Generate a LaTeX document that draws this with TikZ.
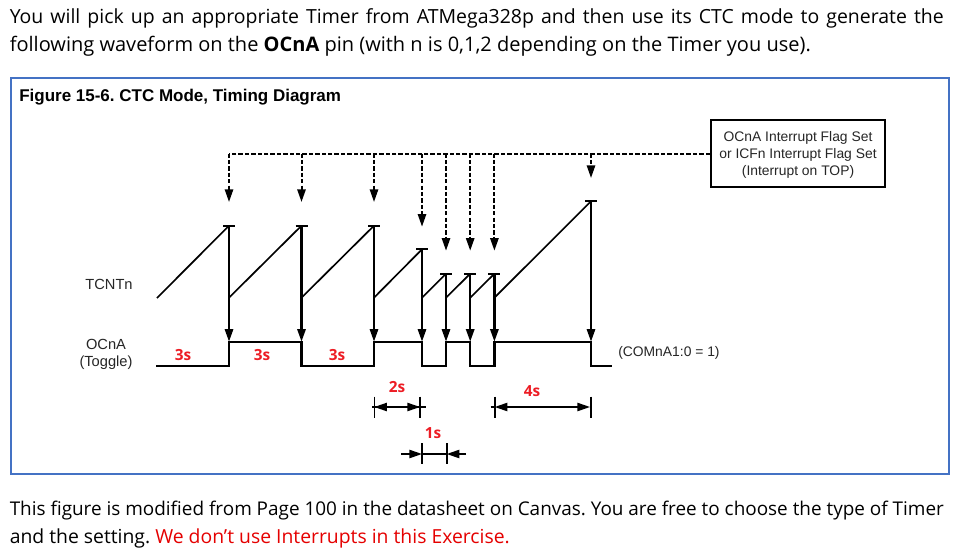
\documentclass[tikz,border=0pt]{standalone}
\usepackage{fontspec}
\setmainfont{Open Sans}
\newfontfamily\figfont{Liberation Sans}
\usetikzlibrary{arrows.meta}
\definecolor{framecol}{RGB}{68,114,196}
\definecolor{redtxt}{RGB}{237,28,36}
\frenchspacing
\tikzset{
  x=0.75pt,y=-0.75pt,
  wave/.style={line width=1.7pt,black,line cap=butt,line join=miter},
  thinwave/.style={line width=1.25pt,black},
  tip/.style={-{Triangle[length=9.5pt,width=6.2pt]}},
  dimtip/.style={-{Triangle[length=9.5pt,width=6.2pt]}},
  dimtips/.style={{Triangle[length=9.5pt,width=6.2pt]}-{Triangle[length=9.5pt,width=6.2pt]}},
  flagline/.style={line width=1.5pt,black,dash pattern=on 3.2pt off 1.6pt,tip},
  flagbus/.style={line width=1.5pt,black,dash pattern=on 3.2pt off 1.6pt},
  capline/.style={line width=1.3pt,black},
  dimtick/.style={line width=1.2pt,black},
  dimline/.style={line width=1.2pt,black},
  para/.style={anchor=base west,inner sep=0pt,font=\fontsize{14.6}{17}\selectfont},
  figlabel/.style={inner sep=0pt,font=\figfont\fontsize{10.4}{12.8}\selectfont,text=black!85,align=center},
  sidelabel/.style={inner sep=0pt,font=\figfont\fontsize{11}{12.8}\selectfont,text=black!85,align=center},
  timelabel/.style={inner sep=0pt,font=\bfseries\fontsize{11.5}{13}\selectfont,text=redtxt},
}
\begin{document}
\begin{tikzpicture}
\useasboundingbox[fill=white] (0,0) rectangle (955,553);
% paragraph text
\node[para] (l1) at (9.5,23) {\makebox[700.5pt][s]{You will pick up an appropriate Timer from ATMega328p and then use its CTC mode to generate the}};
\node[para] (l2) at (9.5,51) {\resizebox{600.75pt}{!}{following waveform on the \textbf{OCnA} pin (with n is 0,1,2 depending on the Timer you use).}};
\node[para] (l3) at (9.5,515) {\resizebox{700.5pt}{!}{This figure is modified from Page 100 in the datasheet on Canvas. You are free to choose the type of Timer}};
\node[para] (l4) at (9.5,543) {\resizebox{375pt}{!}{and the setting. \textcolor{red!90!black}{We don’t use Interrupts in this Exercise.}}};
% frame
\draw[framecol,line width=1.3pt] (11,78) rectangle (949,474);
\node[anchor=base west,inner sep=0pt,font=\figfont\bfseries\fontsize{12.75}{14}\selectfont] (title) at (19,101.5) {Figure 15-6. CTC Mode, Timing Diagram};
% flag box
\node[draw=black,line width=1.6pt,minimum width=130.5pt,minimum height=50pt,inner sep=0pt,fill=white] (flag) at (798,153.5) {};
\node[figlabel] (flagtext) at (798,154.5) {OCnA Interrupt Flag Set\\or ICFn Interrupt Flag Set\\(Interrupt on TOP)};
% named points: bus, top of ramp, foot of ramp, high, low levels
\foreach \n/\x/\tp/\tipy in {a/229/225.7/202,b/301.5/225.7/202,c/374/225.7/202,d/422/249.3/226.7,e/446/273.7/250.7,f/470.2/273.7/250.7,g/494.4/273.7/250.7,h/591/201.3/178}{
  \coordinate (bus\n) at (\x,153.5);
  \coordinate (flag\n) at (\x,\tipy);
  \coordinate (top\n) at (\x,\tp);
  \coordinate (foot\n) at (\x,297.7);
  \coordinate (hi\n) at (\x,341.7);
  \coordinate (lo\n) at (\x,366);
  \coordinate (capl\n) at (\x-6,\tp);
  \coordinate (capr\n) at (\x+6,\tp);
  \draw[flagline] (bus\n) -- (flag\n);
  \draw[capline] (capl\n) -- (capr\n);
  \draw[wave,tip] (top\n) -- (hi\n);
}
\draw[flagbus] (flag.west) -- (busa);
\coordinate (rampstart) at (157,298);
\draw[thinwave] (rampstart) -- (topa);
\draw[thinwave] (foota) -- (topb);
\draw[thinwave] (footb) -- (topc);
\draw[thinwave] (footc) -- (topd);
\draw[thinwave] (footd) -- (tope);
\draw[thinwave] (foote) -- (topf);
\draw[thinwave] (footf) -- (topg);
\draw[thinwave] (footg) -- (toph);
% square wave
\coordinate (wavestart) at (156,366);
\coordinate (waveend) at (612,366);
\draw[wave] (wavestart) -- (loa) -- (hia) -- (hib) -- (lob) -- (loc) -- (hic) -- (hid) -- (lod) -- (loe) -- (hie) -- (hif) -- (lof) -- (log) -- (hig) -- (hih) -- (loh) -- (waveend);
% labels
\node[sidelabel] (tcnt) at (109,284) {TCNTn};
\node[sidelabel] (ocna) at (106,354.5) {OCnA\\(Toggle)};
\node[figlabel,anchor=west] (com) at (618,352.5) {(COMnA1:0 = 1)};
\node[timelabel] (s1) at (183,355) {3s};
\node[timelabel] (s2) at (262,355) {3s};
\node[timelabel] (s3) at (337,355) {3s};
\node[timelabel] (s4) at (397,387) {2s};
\node[timelabel] (s5) at (532,391) {4s};
\node[timelabel] (s6) at (433,433) {1s};
% 2s dimension
\coordinate (t2a) at (374.3,396.7); \coordinate (t2ab) at (374.3,417.7);
\coordinate (t2b) at (420,396.7); \coordinate (t2bb) at (420,417.7);
\coordinate (d2l) at (372,407); \coordinate (d2r) at (425.7,407);
\coordinate (d2a) at (374.3,407); \coordinate (d2b) at (420,407);
\draw[dimtick] (t2a) -- (t2ab);
\draw[dimtick] (t2b) -- (t2bb);
\draw[dimline] (d2l) -- (d2r);
\draw[dimline,dimtips] (d2a) -- (d2b);
% 4s dimension
\coordinate (t4a) at (494.7,396.7); \coordinate (t4ab) at (494.7,417.7);
\coordinate (t4b) at (590.7,396.7); \coordinate (t4bb) at (590.7,417.7);
\coordinate (d4l) at (490.5,407); \coordinate (d4a) at (494.7,407); \coordinate (d4b) at (590,407);
\draw[dimtick] (t4a) -- (t4ab);
\draw[dimtick] (t4b) -- (t4bb);
\draw[dimline] (d4l) -- (d4a);
\draw[dimline,dimtips] (d4a) -- (d4b);
% 1s dimension
\coordinate (t1a) at (422,443); \coordinate (t1ab) at (422,464);
\coordinate (t1b) at (446.7,443); \coordinate (t1bb) at (446.7,464);
\coordinate (d1l) at (401,454); \coordinate (d1r) at (466,454);
\coordinate (d1a) at (422,454); \coordinate (d1b) at (446.7,454);
\draw[dimtick] (t1a) -- (t1ab);
\draw[dimtick] (t1b) -- (t1bb);
\draw[dimline] (d1a) -- (d1b);
\draw[dimline,dimtip] (d1l) -- (d1a);
\draw[dimline,dimtip] (d1r) -- (d1b);
\end{tikzpicture}
\end{document}
